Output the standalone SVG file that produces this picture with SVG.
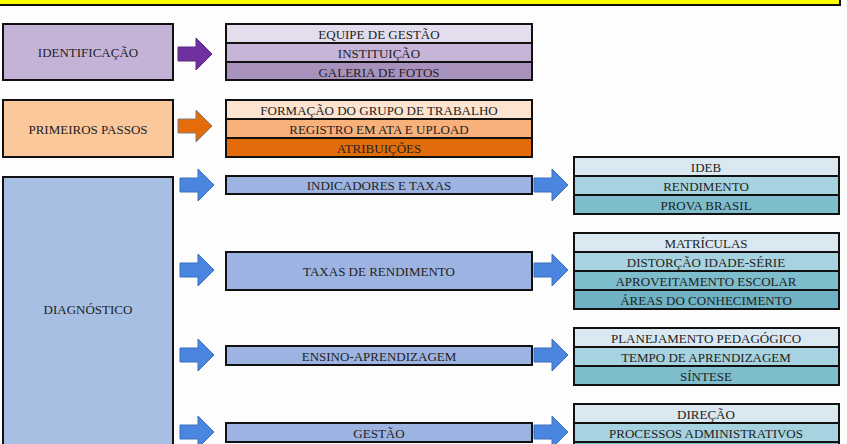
<svg xmlns="http://www.w3.org/2000/svg" width="847" height="444" viewBox="0 0 847 444">
<style>
text{font-family:"Liberation Serif",serif;font-size:13px;fill:#222;text-anchor:middle;dominant-baseline:central}
.b{stroke:#111;stroke-width:2}
.t1{fill:#d9e8f1}.t2{fill:#a7d2df}.t3{fill:#7dbdcc}.t4{fill:#6eb2c4}
.m{fill:#9db4e2}
.ba{fill:#4a86e0;stroke:#3a6fbf;stroke-width:1}
</style>
<defs><path id="ar" d="M0,-7 H18 V-16 L34,0 L18,16 V7 H0 Z"/></defs>
<rect width="847" height="444" fill="#fdfdfd"/>
<rect x="-2" y="-4" width="842" height="9" fill="#ffff00" class="b"/>
<g id="identificacao"><rect x="3" y="24" width="170" height="56" fill="#c4b3d7" class="b"/><text x="88" y="52">IDENTIFICAÇÃO</text></g>
<g id="ident-list">
<rect x="226" y="24" width="306" height="19" fill="#e3dded" class="b"/><text x="379" y="34">EQUIPE DE GESTÃO</text>
<rect x="226" y="43" width="306" height="19" fill="#c6b4d9" class="b"/><text x="379" y="53">INSTITUIÇÃO</text>
<rect x="226" y="62" width="306" height="18" fill="#a991bd" class="b"/><text x="379" y="72">GALERIA DE FOTOS</text></g>
<g id="primeiros"><rect x="3" y="100" width="170" height="57" fill="#fbc89c" class="b"/><text x="88" y="129">PRIMEIROS PASSOS</text></g>
<g id="prim-list">
<rect x="226" y="100" width="306" height="19" fill="#fde4d0" class="b"/><text x="379" y="110">FORMAÇÃO DO GRUPO DE TRABALHO</text>
<rect x="226" y="119" width="306" height="19" fill="#f9b17b" class="b"/><text x="379" y="129">REGISTRO EM ATA E UPLOAD</text>
<rect x="226" y="138" width="306" height="19" fill="#e36c0a" class="b"/><text x="379" y="148">ATRIBUIÇÕES</text></g>
<g id="diagnostico"><rect x="3" y="177" width="170" height="280" fill="#a7bfe3" class="b"/><text x="88" y="309">DIAGNÓSTICO</text></g>
<g id="indicadores"><rect x="226" y="176" width="306" height="18" class="m b"/><text x="379" y="185">INDICADORES E TAXAS</text></g>
<g id="taxas"><rect x="226" y="252" width="306" height="38" class="m b"/><text x="379" y="271">TAXAS DE RENDIMENTO</text></g>
<g id="ensino"><rect x="226" y="346" width="306" height="19" class="m b"/><text x="379" y="356">ENSINO-APRENDIZAGEM</text></g>
<g id="gestao"><rect x="226" y="423" width="306" height="19" class="m b"/><text x="379" y="433">GESTÃO</text></g>
<g id="ind-list">
<rect x="574" y="157" width="265" height="19" class="t1 b"/><text x="706" y="167">IDEB</text>
<rect x="574" y="176" width="265" height="19" class="t2 b"/><text x="706" y="186">RENDIMENTO</text>
<rect x="574" y="195" width="265" height="19" class="t3 b"/><text x="706" y="205">PROVA BRASIL</text></g>
<g id="tax-list">
<rect x="574" y="233" width="265" height="19" class="t1 b"/><text x="706" y="243">MATRÍCULAS</text>
<rect x="574" y="252" width="265" height="19" class="t2 b"/><text x="706" y="262">DISTORÇÃO IDADE-SÉRIE</text>
<rect x="574" y="271" width="265" height="19" class="t3 b"/><text x="706" y="281">APROVEITAMENTO ESCOLAR</text>
<rect x="574" y="290" width="265" height="19" class="t4 b"/><text x="706" y="300">ÁREAS DO CONHECIMENTO</text></g>
<g id="ens-list">
<rect x="574" y="328" width="265" height="19" class="t1 b"/><text x="706" y="338">PLANEJAMENTO PEDAGÓGICO</text>
<rect x="574" y="347" width="265" height="19" class="t2 b"/><text x="706" y="357">TEMPO DE APRENDIZAGEM</text>
<rect x="574" y="366" width="265" height="19" class="t3 b"/><text x="706" y="376">SÍNTESE</text></g>
<g id="gest-list">
<rect x="574" y="404" width="265" height="19" class="t1 b"/><text x="706" y="414">DIREÇÃO</text>
<rect x="574" y="423" width="265" height="19" class="t2 b"/><text x="706" y="433">PROCESSOS ADMINISTRATIVOS</text>
<rect x="574" y="442" width="265" height="19" class="t3 b"/></g>
<g id="connectors">
<use href="#ar" x="178" y="54" fill="#7030a0" stroke="#5a2a80"/>
<use href="#ar" x="178" y="126" fill="#e46c0a" stroke="#7f7f7f"/>
<use href="#ar" x="180" y="185" class="ba"/>
<use href="#ar" x="180" y="270" class="ba"/>
<use href="#ar" x="180" y="355" class="ba"/>
<use href="#ar" x="180" y="432" class="ba"/>
<use href="#ar" x="534" y="185" class="ba"/>
<use href="#ar" x="534" y="270" class="ba"/>
<use href="#ar" x="534" y="355" class="ba"/>
<use href="#ar" x="534" y="432" class="ba"/>
</g>
</svg>
